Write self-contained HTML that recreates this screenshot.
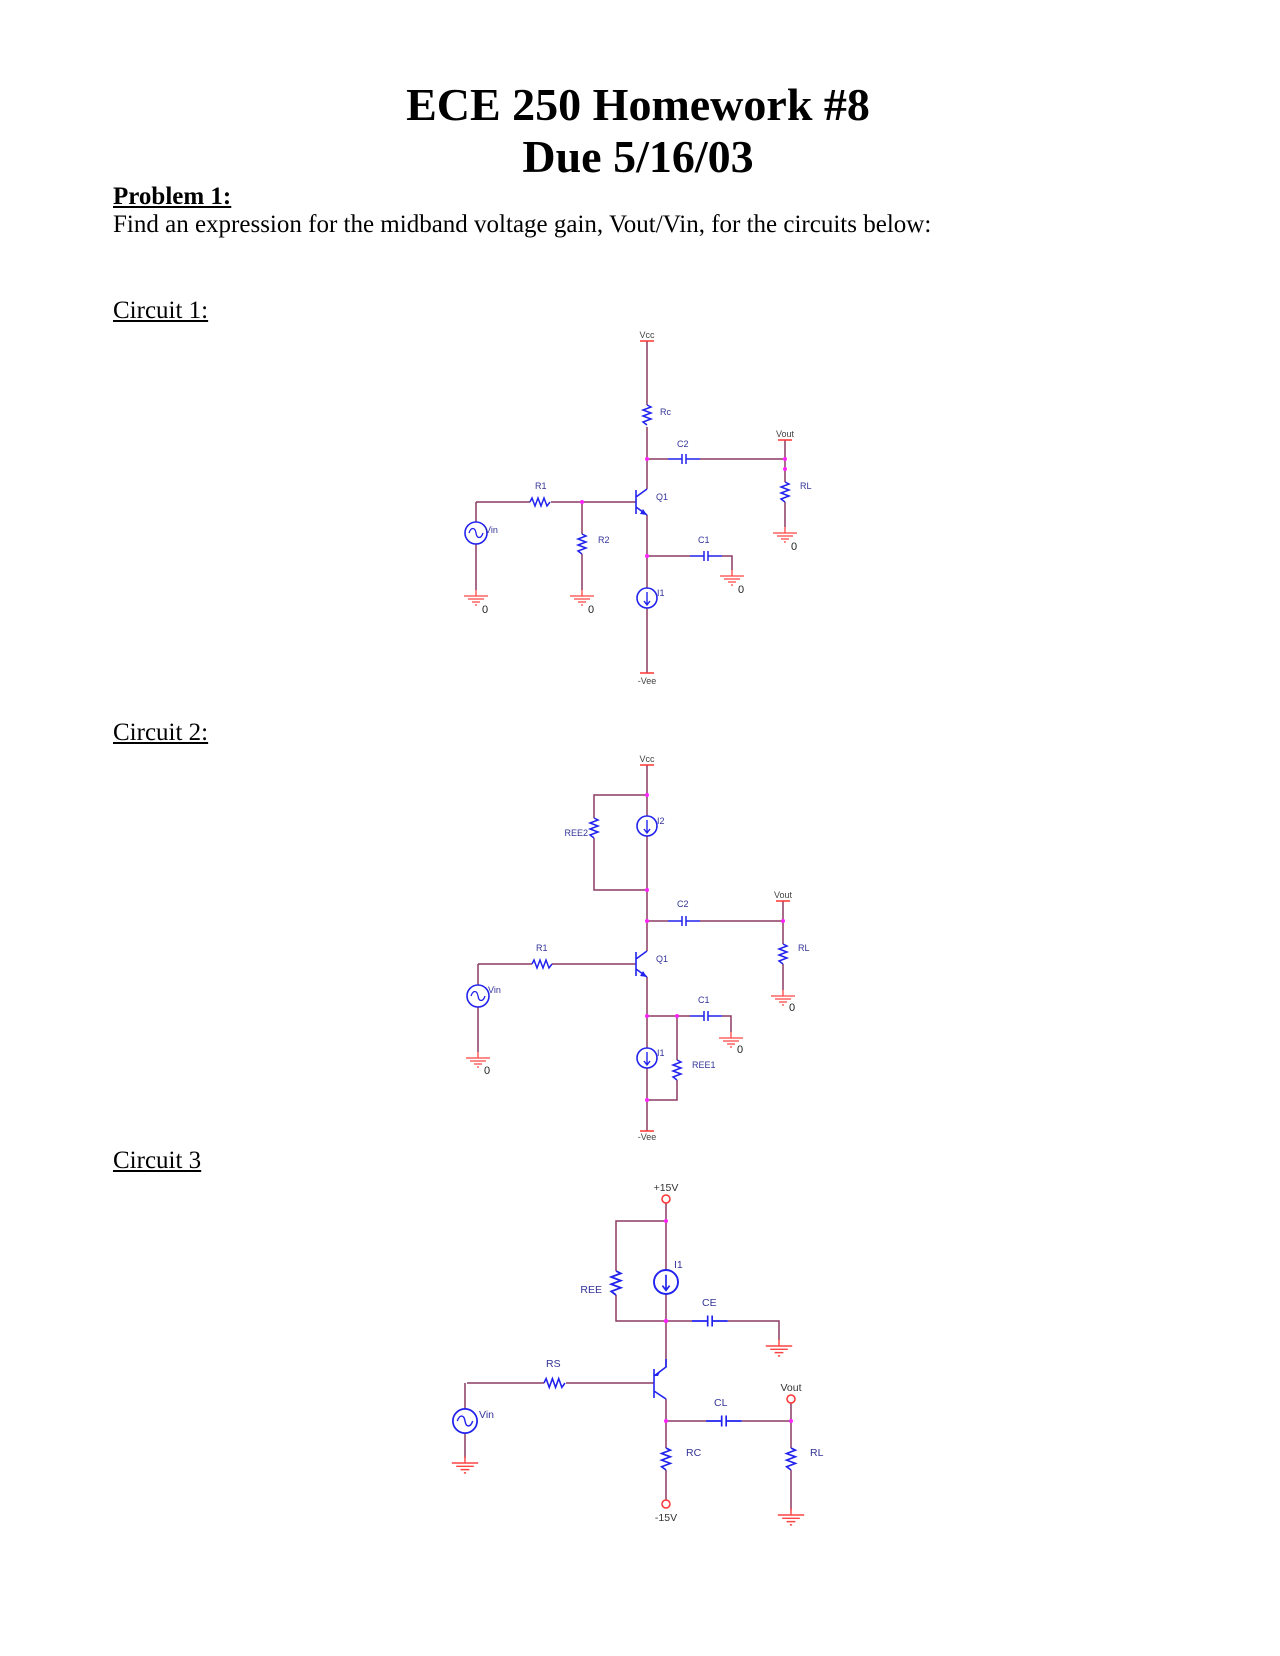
<!DOCTYPE html>
<html><head><meta charset="utf-8"><style>
html,body{margin:0;padding:0;background:#fff;}
body{width:1280px;height:1656px;position:relative;overflow:hidden;font-family:"Liberation Serif",serif;}
.t{position:absolute;left:0;width:1276px;text-align:center;font-weight:bold;font-size:46px;line-height:1;}
.p{position:absolute;left:113px;font-size:25px;line-height:1;}
svg{position:absolute;left:0;top:0;}
</style></head><body>
<div class="t" style="top:82px">ECE 250 Homework #8</div>
<div class="t" style="top:134px">Due 5/16/03</div>
<div class="p" style="top:184px;font-weight:bold;text-decoration:underline">Problem 1:</div>
<div class="p" style="top:212px">Find an expression for the midband voltage gain, Vout/Vin, for the circuits below:</div>
<div class="p" style="top:298px;text-decoration:underline">Circuit 1:</div>
<div class="p" style="top:720px;text-decoration:underline">Circuit 2:</div>
<div class="p" style="top:1148px;text-decoration:underline">Circuit 3</div>

<svg width="1280" height="1656" viewBox="0 0 1280 1656">
<defs>
<path id="rv" d="M0,0 l4,2 l-8,3 l8,3 l-8,3 l8,3 l-8,3 l4,3" fill="none" stroke="#2222ee" stroke-width="1.5"/>
<path id="rh" d="M0,0 l2,-4 l3,8 l3,-8 l3,8 l3,-8 l3,8 l3,-4" fill="none" stroke="#2222ee" stroke-width="1.5"/>
<path id="ch" d="M0,0 H14 M14,-5 V5 M18,-5 V5 M18,0 H32" fill="none" stroke="#2222ee" stroke-width="1.5"/>
<path id="gd" d="M0,-6 V0 M-12,0 H12 M-8,3 H8 M-4,6 H4 M-1,9 H1" fill="none" stroke="#ff4444" stroke-width="1.3"/>
<g id="is"><circle r="10" fill="none" stroke="#2222ee" stroke-width="1.6"/><path d="M0,-6 V7 M-3,3 L0,7 L3,3" fill="none" stroke="#2222ee" stroke-width="1.4"/></g>
<g id="vs"><circle r="11" fill="none" stroke="#2222ee" stroke-width="1.6"/><path d="M-7,0 C-5,-6 -1,-6 0,0 C1,6 5,6 7,0" fill="none" stroke="#2222ee" stroke-width="1.3"/></g>
</defs>

<g fill="none" stroke="#8b3a62" stroke-width="1.5">
<path d="M647,341 V405 M647,427 V489 M647,459 H668 M700,459 H785 M785,440 V482 M785,502 V527 M647,515 V588 M647,608 V673 M476,502 H530 M551,502 H636 M582,502 V534 M582,554 V590 M476,502 V522 M476,544 V590 M647,556 H690 M722,556 H732 V570"/>
<path d="M647,765 V816 M647,836 V951 M647,795 H594 V818 M594,838 V890 H647 M647,921 H668 M700,921 H783 M783,901 V944 M783,964 V990 M478,964 H532 M552,964 H636 M478,964 V985 M478,1007 V1052 M647,977 V1048 M647,1016 H690 M722,1016 H731 V1032 M677,1016 V1060 M677,1080 V1100 H647 M647,1068 V1131"/>
<path d="M666,1203 V1270 M666,1294 V1367 M666,1221 H616 V1271 M616,1295 V1321 H666 M666,1321 H692 M728,1321 H779 V1340 M467,1383 H544 M566,1383 H654 M666,1399 V1448 M666,1470 V1500 M666,1421 H706 M742,1421 H791 M791,1403 V1448 M791,1470 V1510 M465,1383 V1409 M465,1433 V1458"/>
</g>
<g stroke="#ff3333" stroke-width="1.5">
<path d="M640,341 H654 M640,673 H654 M778,440 H792 M640,765 H654 M640,1131 H654 M776,901 H790"/>
</g>
<g fill="none" stroke="#ff3333" stroke-width="1.5">
<circle cx="666" cy="1199" r="4"/><circle cx="666" cy="1504" r="4"/><circle cx="791" cy="1399" r="4"/>
</g>

<use href="#rv" x="647" y="405"/>
<use href="#rv" x="582" y="534"/>
<use href="#rv" x="785" y="482"/>
<use href="#rh" x="530" y="502"/>
<use href="#ch" x="668" y="459"/>
<use href="#ch" x="690" y="556"/>
<use href="#is" x="647" y="598"/>
<use href="#vs" x="476" y="533"/>
<use href="#gd" x="476" y="596"/><use href="#gd" x="582" y="596"/><use href="#gd" x="732" y="576"/><use href="#gd" x="785" y="533"/>
<g fill="none" stroke="#2222ee" stroke-width="1.6">
<path d="M636,490 V514 M636,497 L647,489 M636,507 L647,515"/>
</g>
<path d="M647,515 L640,514 L643,509 Z" fill="#2222ee"/>

<use href="#rv" x="594" y="818"/>
<use href="#rv" x="783" y="944"/>
<use href="#rv" x="677" y="1060"/>
<use href="#rh" x="532" y="964"/>
<use href="#ch" x="668" y="921"/>
<use href="#ch" x="690" y="1016"/>
<use href="#is" x="647" y="826"/>
<use href="#is" x="647" y="1058"/>
<use href="#vs" x="478" y="996"/>
<use href="#gd" x="478" y="1058"/><use href="#gd" x="731" y="1038"/><use href="#gd" x="783" y="996"/>
<g fill="none" stroke="#2222ee" stroke-width="1.6">
<path d="M636,952 V976 M636,959 L647,951 M636,969 L647,977"/>
</g>
<path d="M647,977 L640,976 L643,971 Z" fill="#2222ee"/>

<g transform="translate(616,1271) scale(1.2,1.2)"><use href="#rv"/></g>
<g transform="translate(666,1448) scale(1.1,1.1)"><use href="#rv"/></g>
<g transform="translate(791,1448) scale(1.1,1.1)"><use href="#rv"/></g>
<g transform="translate(544,1383) scale(1.05,1.1)"><use href="#rh"/></g>
<g transform="translate(692,1321) scale(1.12,1.1)"><use href="#ch"/></g>
<g transform="translate(706,1421) scale(1.12,1.1)"><use href="#ch"/></g>
<g transform="translate(666,1282) scale(1.2)"><use href="#is"/></g>
<g transform="translate(465,1421) scale(1.1)"><use href="#vs"/></g>
<g transform="translate(779,1346) scale(1.1)"><use href="#gd"/></g>
<g transform="translate(465,1463) scale(1.1)"><use href="#gd"/></g>
<g transform="translate(791,1515) scale(1.1)"><use href="#gd"/></g>
<g fill="none" stroke="#2222ee" stroke-width="1.6">
<path d="M654,1369 V1398 M654,1376 L666,1367 V1359 M654,1391 L666,1399"/>
</g>
<path d="M654,1376 L661,1370 L658,1376 Z" fill="#2222ee"/>

<g fill="#ff22ff">
<circle cx="647" cy="459" r="2"/><circle cx="785" cy="459" r="2"/><circle cx="785" cy="469" r="2"/><circle cx="582" cy="502" r="2"/><circle cx="647" cy="556" r="2"/>
<circle cx="647" cy="795" r="2"/><circle cx="647" cy="890" r="2"/><circle cx="647" cy="921" r="2"/><circle cx="783" cy="921" r="2"/><circle cx="647" cy="1016" r="2"/><circle cx="677" cy="1016" r="2"/><circle cx="647" cy="1100" r="2"/>
<circle cx="666" cy="1221" r="2"/><circle cx="666" cy="1321" r="2.2"/><circle cx="666" cy="1421" r="2"/><circle cx="791" cy="1421" r="2"/>
</g>

<g font-family="Liberation Sans, sans-serif" font-size="9" fill="#333399">
<g fill="#444" text-anchor="middle"><text x="647" y="338">Vcc</text><text x="785" y="437">Vout</text><text x="647" y="684">-Vee</text>
<text x="647" y="762">Vcc</text><text x="783" y="898">Vout</text><text x="647" y="1140">-Vee</text></g>
<text x="660" y="415">Rc</text><text x="677" y="447">C2</text><text x="800" y="489">RL</text><text x="535" y="489">R1</text>
<text x="656" y="500">Q1</text><text x="485" y="533">Vin</text><text x="598" y="543">R2</text><text x="698" y="543">C1</text><text x="657" y="596">I1</text>
<text x="657" y="824">I2</text><text x="588" y="836" text-anchor="end">REE2</text><text x="677" y="907">C2</text><text x="798" y="951">RL</text>
<text x="536" y="951">R1</text><text x="656" y="962">Q1</text><text x="488" y="993">Vin</text><text x="698" y="1003">C1</text><text x="657" y="1056">I1</text><text x="692" y="1068">REE1</text>
<g fill="#222" font-size="11"><text x="482" y="613">0</text><text x="588" y="613">0</text><text x="738" y="593">0</text><text x="791" y="550">0</text>
<text x="484" y="1074">0</text><text x="737" y="1053">0</text><text x="789" y="1011">0</text></g>
<g font-size="10.5">
<text x="666" y="1191" text-anchor="middle" fill="#333">+15V</text><text x="666" y="1521" text-anchor="middle" fill="#333">-15V</text><text x="791" y="1391" text-anchor="middle" fill="#333">Vout</text>
<text x="602" y="1293" text-anchor="end">REE</text><text x="674" y="1268">I1</text><text x="702" y="1306">CE</text><text x="546" y="1367">RS</text>
<text x="479" y="1418">Vin</text><text x="714" y="1406">CL</text><text x="686" y="1456">RC</text><text x="810" y="1456">RL</text>
</g>
</g>
</svg>
</body></html>
